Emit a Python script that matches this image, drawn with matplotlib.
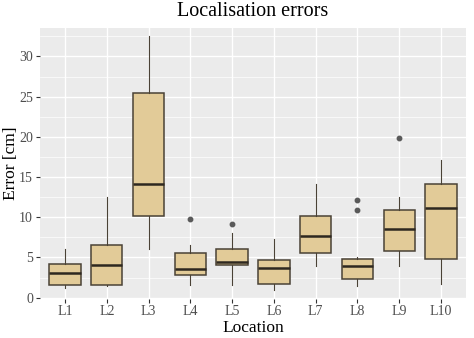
import matplotlib
matplotlib.use("Agg")
import matplotlib.pyplot as plt

plt.rcParams["font.family"] = ["Liberation Serif", "DejaVu Serif"]

locations = ["L1", "L2", "L3", "L4", "L5", "L6", "L7", "L8", "L9", "L10"]
whisker_low = [1.2, 1.4, 6.1, 1.6, 1.6, 0.9, 4.0, 1.4, 4.0, 1.7]
q1 = [1.6, 1.6, 10.1, 2.8, 4.1, 1.7, 5.5, 2.3, 5.8, 4.8]
median = [3.1, 4.1, 14.2, 3.6, 4.5, 3.7, 7.7, 4.0, 8.6, 11.2]
q3 = [4.2, 6.5, 25.4, 5.5, 6.1, 4.7, 10.1, 4.8, 10.9, 14.2]
whisker_high = [6.1, 12.5, 32.5, 6.5, 8.1, 7.3, 14.1, 5.0, 12.5, 17.1]
outliers = [[], [], [], [9.8], [9.2], [], [], [12.1, 10.9], [19.9], []]

stats = []
for i, name in enumerate(locations):
    stats.append({
        "label": name,
        "whislo": whisker_low[i],
        "q1": q1[i],
        "med": median[i],
        "q3": q3[i],
        "whishi": whisker_high[i],
        "fliers": outliers[i],
    })

fig = plt.figure(figsize=(4.74, 3.38), dpi=100)
ax = fig.add_axes([40 / 474, 1 - 298.5 / 338, 426 / 474, 271 / 338])
ax.set_facecolor("#EBEBEB")

edge = "#4a4236"
ax.bxp(stats, positions=range(1, 11), widths=0.75, patch_artist=True,
       showcaps=False,
       boxprops=dict(facecolor="#E2CB98", edgecolor=edge, linewidth=1.1),
       medianprops=dict(color="#2e2820", linewidth=1.8),
       whiskerprops=dict(color=edge, linewidth=0.8),
       flierprops=dict(marker="o", markersize=3.2, markerfacecolor="#5a5a5a",
                       markeredgecolor="#5a5a5a"),
       zorder=3)

ax.set_xlim(0.4, 10.6)
ax.set_ylim(-0.1, 33.6)
ax.set_yticks([0, 5, 10, 15, 20, 25, 30])
ax.set_yticks([2.5, 7.5, 12.5, 17.5, 22.5, 27.5, 32.5], minor=True)
ax.grid(True, which="major", color="white", linewidth=1.0, zorder=0)
ax.grid(True, which="minor", axis="y", color="white", linewidth=0.5, zorder=0)
ax.set_axisbelow(True)
for s in ax.spines.values():
    s.set_visible(False)
ax.tick_params(axis="both", which="major", length=3, color="#333333",
               labelcolor="#4D4D4D", labelsize=10, pad=2)
ax.tick_params(axis="y", which="minor", length=0)

ax.set_title("Localisation errors", fontsize=14.5, pad=8)
ax.set_xlabel("Location", fontsize=12.5, labelpad=1)
ax.set_ylabel("Error [cm]", fontsize=12.5)
ax.yaxis.set_label_coords(-0.05, 0.5)

fig.savefig("out.png", dpi=100)
